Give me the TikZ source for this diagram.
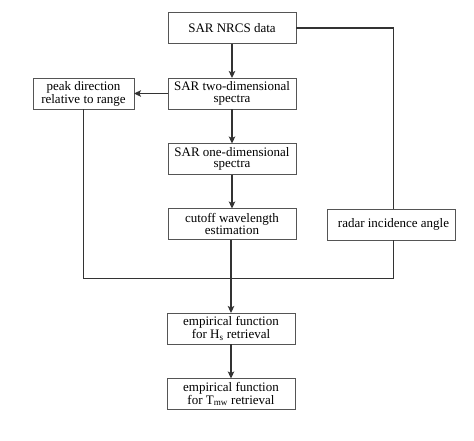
\documentclass[tikz,border=0pt]{standalone}
\usepackage{fontspec}
\setmainfont{Liberation Serif}
\usetikzlibrary{arrows.meta}
\definecolor{boxc}{HTML}{555555}
\definecolor{linec}{HTML}{333333}
\begin{document}
\begin{tikzpicture}[x=1pt,y=-1pt,
  flowbox/.style={draw=boxc, line width=0.9pt, inner sep=0pt, outer sep=0pt,
    align=center, minimum height=31pt, font=\fontsize{13}{11.5}\selectfont},
  conn/.style={draw=linec, line width=1.1pt},
  arr/.style={conn, -{Stealth[length=7pt,width=6.5pt,inset=1.5pt]}}]
\useasboundingbox (0,0) rectangle (474,440);
\node[flowbox, minimum width=128pt] (nrcs) at (232,28) {SAR NRCS data};
\node[flowbox, minimum width=128pt] (two) at (232,93.5) {SAR two-dimensional\\spectra};
\node[flowbox, minimum width=101pt] (peak) at (83.5,93.5) {peak direction\\relative to range};
\node[flowbox, minimum width=128pt] (one) at (232,159) {SAR one-dimensional\\spectra};
\node[flowbox, minimum width=128pt] (cut) at (232,224) {cutoff wavelength\\estimation};
\node[flowbox, minimum width=128pt] (radar) at (391.5,224.5) {\hspace*{4pt}radar incidence angle};
\node[flowbox, minimum width=128pt] (hs) at (231,328.5) {empirical function\\for H\textsubscript{s} retrieval};
\node[flowbox, minimum width=128pt] (tmw) at (231,394) {empirical function\\for T\textsubscript{mw} retrieval};
\coordinate (rx) at (393.5,0);
\coordinate (jy) at (0,278.5);
\draw[arr] (nrcs) -- (two);
\draw[arr] (two) -- (peak);
\draw[arr] (two) -- (one);
\draw[arr] (one) -- (cut);
\draw[conn] (nrcs.east) -- (nrcs.east -| rx) -- (rx |- radar.north);
\draw[conn] (rx |- radar.south) -- (rx |- jy) -- (peak.south |- jy) -- (peak.south);
\draw[arr] (hs.north |- cut.south) -- (hs.north);
\draw[arr] (hs) -- (tmw);
\end{tikzpicture}
\end{document}
